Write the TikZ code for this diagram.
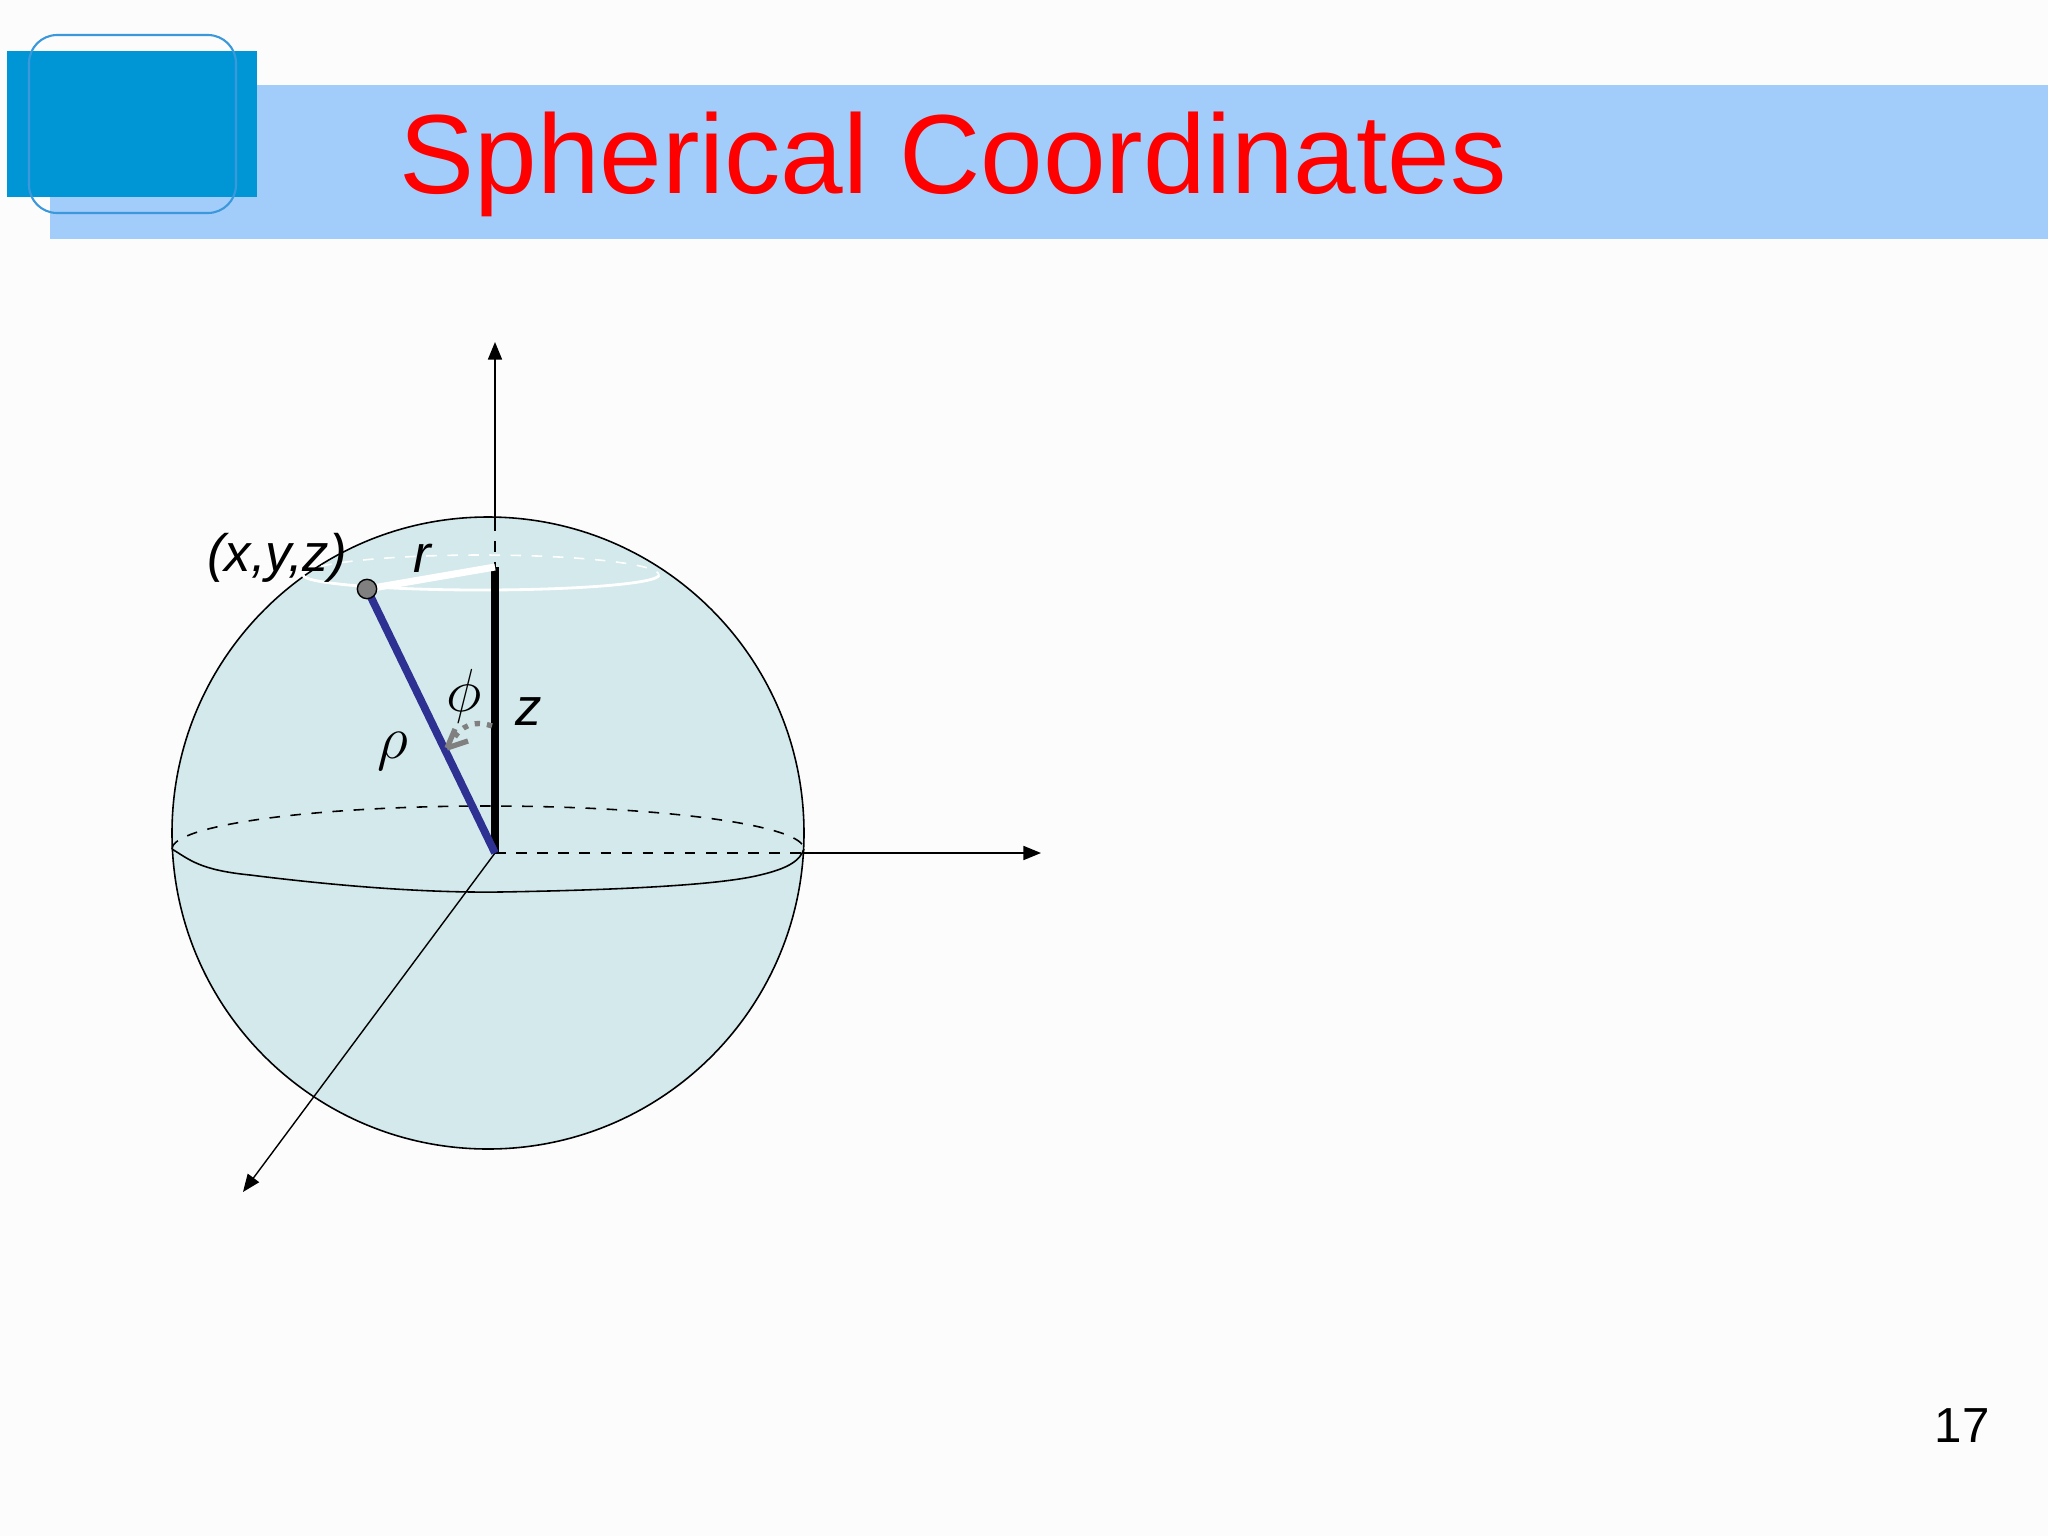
\documentclass[tikz,border=0pt]{standalone}
\usepackage{fontspec}
\setmainfont{Liberation Sans}
\usetikzlibrary{arrows.meta}
\definecolor{band}{HTML}{A2CCF9}
\definecolor{dblue}{HTML}{0096D6}
\definecolor{sph}{HTML}{D3E9EC}
\definecolor{rho}{HTML}{2E3192}
\tikzset{axis/.style={-{Triangle[length=5pt,width=4pt]},line width=0.4pt},
 lbl/.style={font=\fontsize{15}{15}\selectfont\itshape,inner sep=0pt},
 glbl/.style={font=\fontsize{19}{19}\selectfont,inner sep=0pt}}
\begin{document}
\begin{tikzpicture}[x=0.01cm,y=-0.01cm]
\useasboundingbox[fill=white!98!gray] (0,0) rectangle (2048,1536);
\fill[band] (50,85) rectangle (2048,239);
\fill[dblue] (7,51) rectangle (257,197);
\draw[cyan!70!blue!80,line width=0.6pt,rounded corners=8pt] (29,35) rectangle (236,213);
\node[text=red,font=\fontsize{32}{32}\selectfont] (title) at (953,164) {Spherical Coordinates};
% sphere
\coordinate (O) at (495,853);
\fill[sph] (488,833) circle[radius=316];
\draw[line width=0.45pt] (488,833) circle[radius=316];
% equator
\draw[dashed,line width=0.45pt] (172,849) arc[start angle=180,end angle=360,x radius=316,y radius=43];
\draw[line width=0.45pt] (172,849) .. controls (190,860) and (200,870) .. (250,875) .. controls (330,885) and (420,893) .. (500,892) .. controls (620,890) and (720,885) .. (760,875) .. controls (790,868) and (800,860) .. (804,849);
% top small circle
\draw[white,dashed,line width=0.45pt] (303,575) arc[start angle=180,end angle=360,x radius=178,y radius=20];
\draw[white,line width=0.8pt] (303,575) arc[start angle=180,end angle=0,x radius=178,y radius=15];
% axes
\coordinate (zt) at (495,342);
\coordinate (xt) at (1041,853);
\coordinate (yt) at (243,1192);
\draw[axis] (495,520) -- (zt);
\draw[dashed,line width=0.4pt] (495,520) -- (495,567);
\draw[dashed,line width=0.4pt] (O) -- (804,853);
\draw[axis] (804,853) -- (xt);
\draw[axis] (O) -- (yt);
% z line
\coordinate (zp) at (495,567);
\draw[line width=2.2pt] (O) -- (zp);
% r line
\coordinate (P) at (367,589);
\draw[white,line width=2pt] (P) -- (zp);
% rho
\draw[rho,line width=2.2pt] (O) -- (P);
\node[circle,fill=gray,draw=black,line width=0.4pt,minimum size=5.5pt,inner sep=0pt] (pt) at (P) {};
% angle
\draw[gray,dotted,line width=1.5pt] (492,726) .. controls (475,720) and (460,725) .. (452,742);
\draw[gray,line width=1.5pt] (447,748) -- (468,741);
\draw[gray,line width=1.5pt] (447,748) -- (455,729);
% labels
\node[lbl] (xyz) at (277,558) {(\textit{x},\textit{y},\textit{z})};
\node[lbl] (r) at (422,558) {r};
\node[glbl] (phi) at (464,696) {$\phi$};
\node[lbl] (z) at (529,712) {z};
\node[glbl] (rh) at (393,751) {$\rho$};
\node[font=\fontsize{14}{14}\selectfont] (num) at (1962,1426) {17};
\end{tikzpicture}
\end{document}
